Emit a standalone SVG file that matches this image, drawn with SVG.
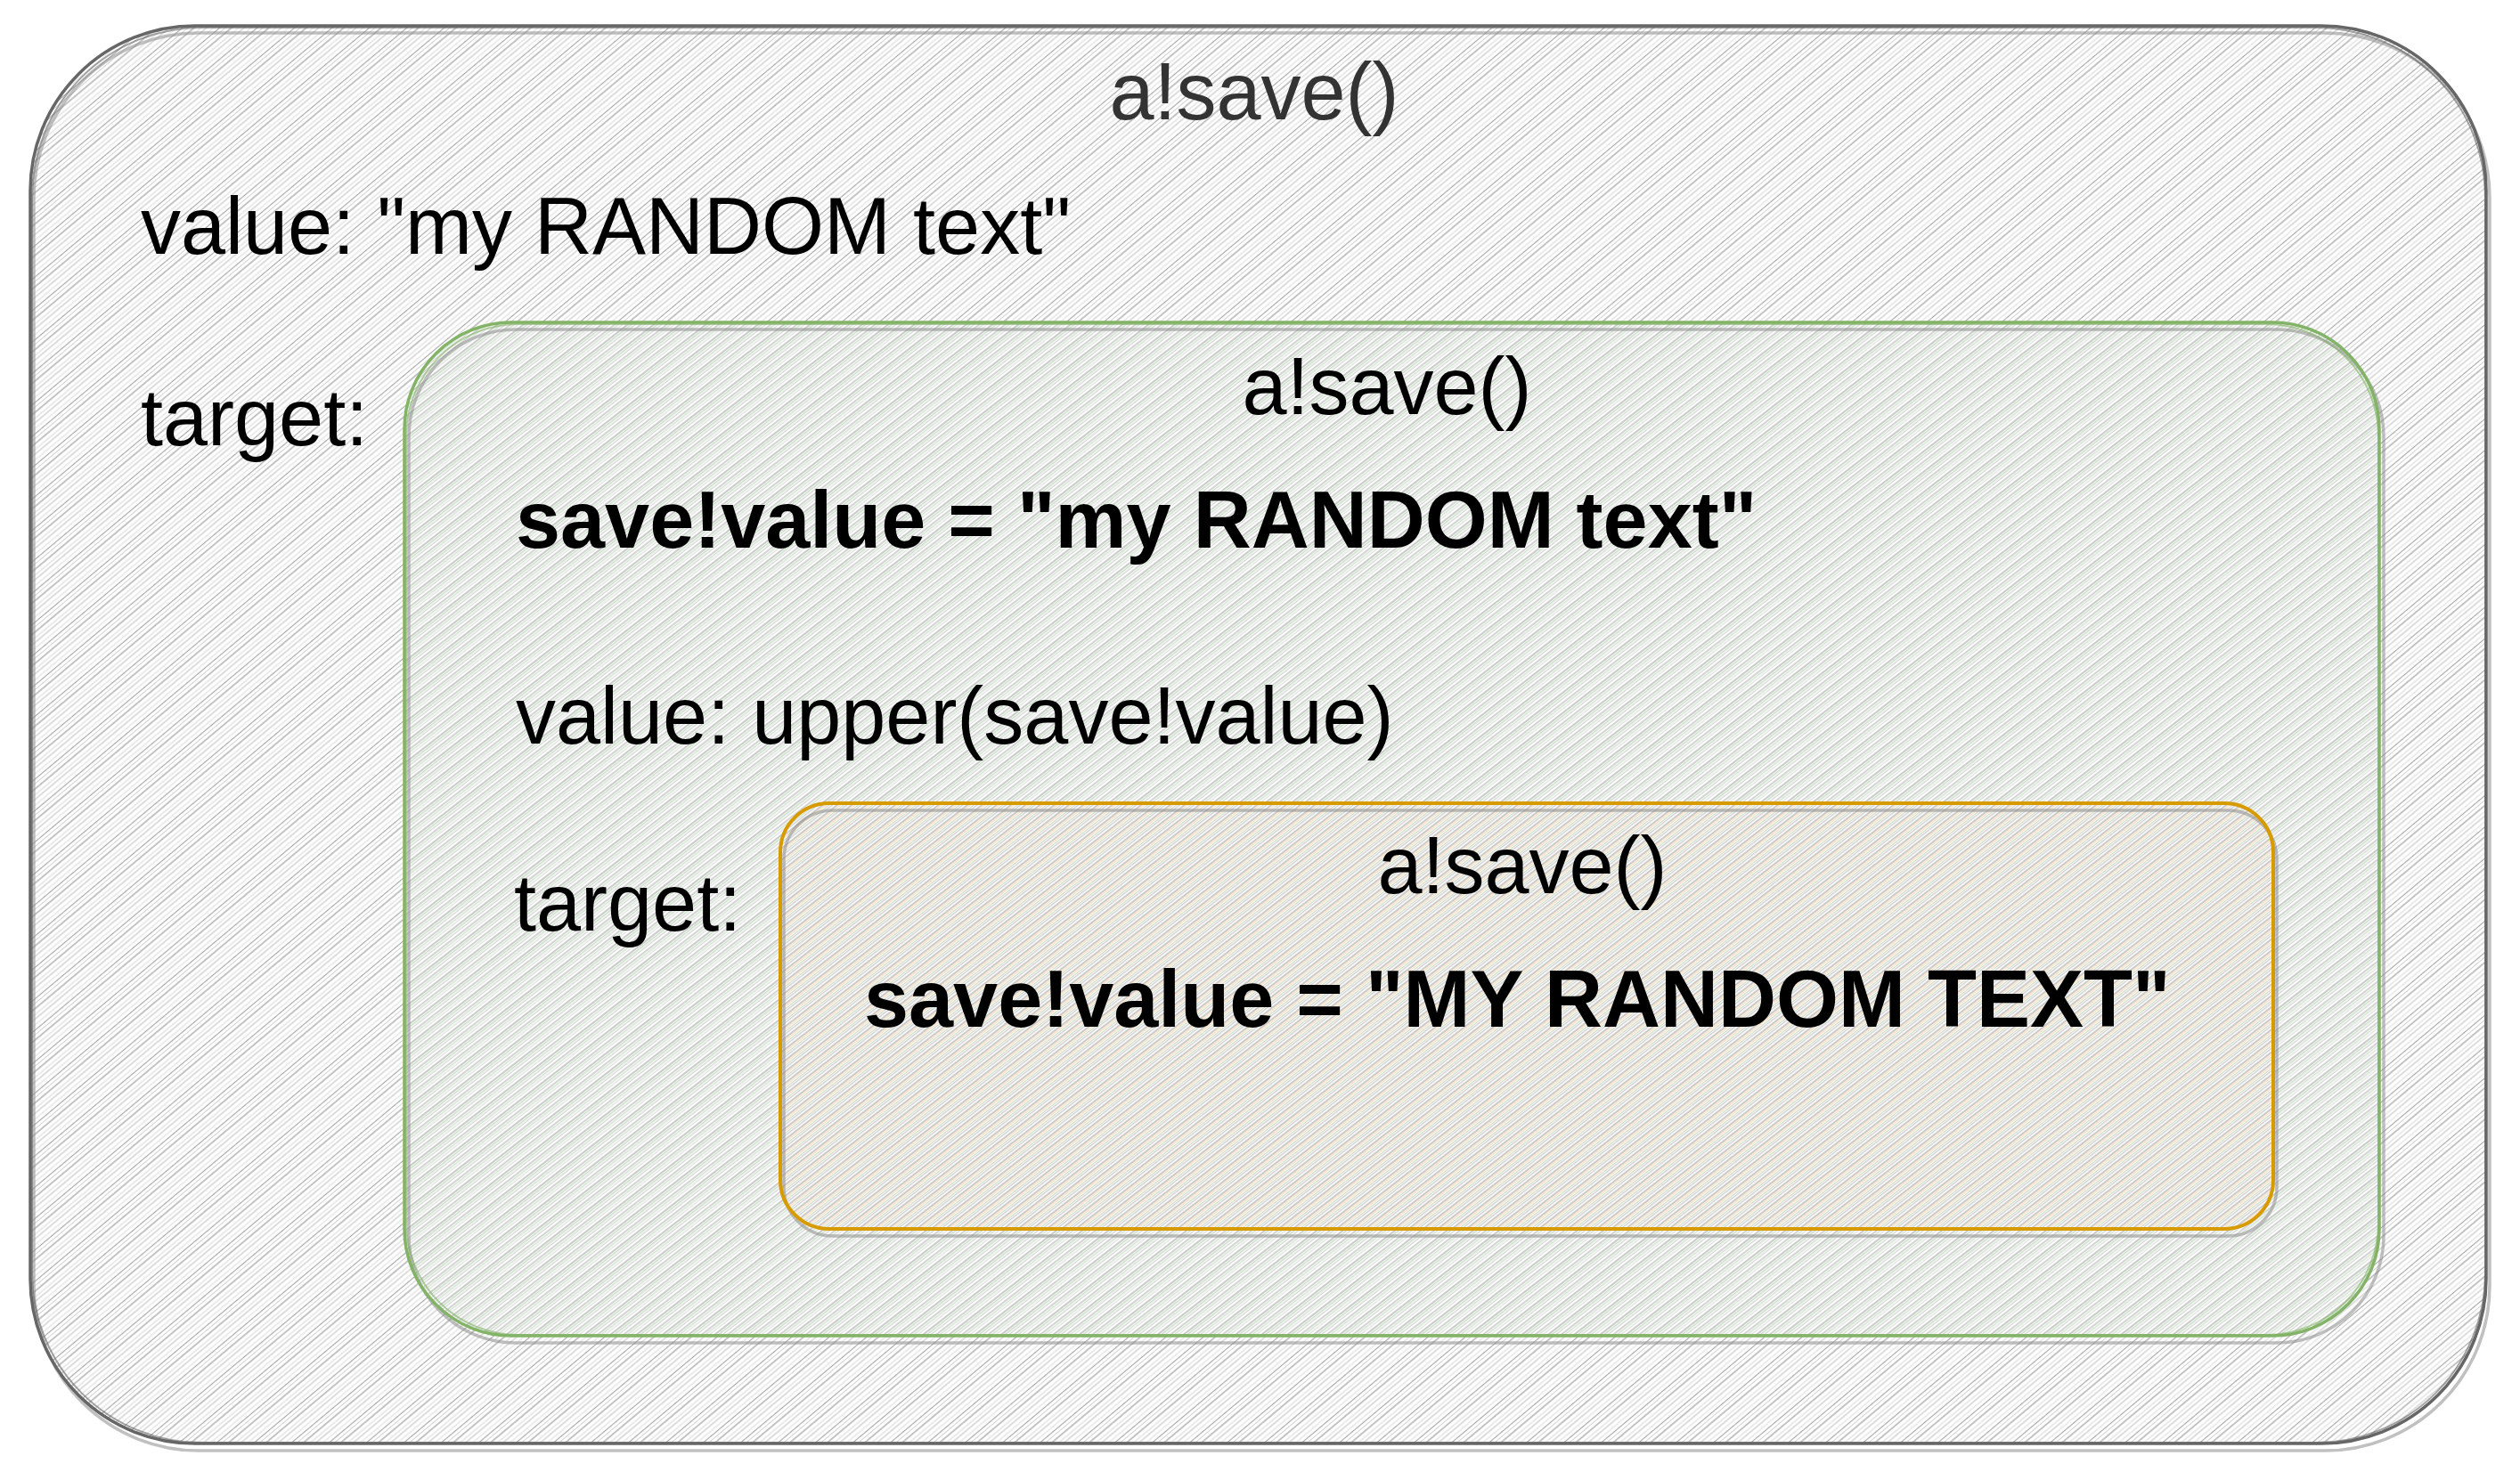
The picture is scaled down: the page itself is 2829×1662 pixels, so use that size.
<svg xmlns="http://www.w3.org/2000/svg" width="2829" height="1662" viewBox="0 0 2829 1662">
  <defs>
    <pattern id="hatchOuter" patternUnits="userSpaceOnUse" width="27" height="10" patternTransform="rotate(50)">
      <rect width="27" height="10" fill="#ffffff"/>
      <line x1="2" y1="0" x2="2" y2="10" stroke="#b0b0b0" stroke-width="1.5"/>
      <line x1="7" y1="0" x2="7" y2="10" stroke="#dcdcdc" stroke-width="1.2"/>
      <line x1="11" y1="0" x2="11" y2="10" stroke="#c2c2c2" stroke-width="1.1"/>
      <line x1="16" y1="0" x2="16" y2="10" stroke="#e4e4e4" stroke-width="1.4"/>
      <line x1="20.5" y1="0" x2="20.5" y2="10" stroke="#aaaaaa" stroke-width="1.2"/>
      <line x1="24.5" y1="0" x2="24.5" y2="10" stroke="#d2d2d2" stroke-width="1"/>
    </pattern>
    <pattern id="hatchGreen" patternUnits="userSpaceOnUse" width="18" height="9" patternTransform="rotate(52)">
      <rect width="18" height="9" fill="#ffffff"/>
      <line x1="1" y1="0" x2="1" y2="9" stroke="#a9a9a9" stroke-width="1.2"/>
      <line x1="3.6" y1="0" x2="3.6" y2="9" stroke="#c4dcc2" stroke-width="1.5"/>
      <line x1="6.3" y1="0" x2="6.3" y2="9" stroke="#c8c8c8" stroke-width="1"/>
      <line x1="10" y1="0" x2="10" y2="9" stroke="#b8b8b8" stroke-width="1.2"/>
      <line x1="12.6" y1="0" x2="12.6" y2="9" stroke="#cfe2cd" stroke-width="1.5"/>
      <line x1="15.3" y1="0" x2="15.3" y2="9" stroke="#d8d8d8" stroke-width="1"/>
    </pattern>
    <pattern id="hatchOrange" patternUnits="userSpaceOnUse" width="10" height="10" patternTransform="rotate(52)">
      <rect width="10" height="10" fill="#ffffff"/>
      <line x1="1" y1="0" x2="1" y2="10" stroke="#a9a9a9" stroke-width="1.2"/>
      <line x1="3.2" y1="0" x2="3.2" y2="10" stroke="#f8dfc2" stroke-width="1.5"/>
      <line x1="5.5" y1="0" x2="5.5" y2="10" stroke="#c9dac7" stroke-width="1.2"/>
      <line x1="7.8" y1="0" x2="7.8" y2="10" stroke="#bdbdbd" stroke-width="1"/>
    </pattern>
  </defs>
  <style>
    .txt { font-family: "Liberation Sans", Arial, Helvetica, sans-serif; font-size: 90px; fill: #000000; }
    .bold { font-weight: bold; }
    .dark { fill: #333333; }
    .mid { text-anchor: middle; }
    .shadow { fill: none; stroke: #8c8c8c; stroke-opacity: 0.55; stroke-width: 3.5; }
    .outerStroke { fill: none; stroke: #666666; stroke-width: 3.5; }
    .greenStroke { fill: none; stroke: #82b366; stroke-width: 3.5; }
    .orangeStroke { fill: none; stroke: #d79b00; stroke-width: 4; }
    .sketch { fill: none; stroke-width: 2; stroke-opacity: 0.6; }
  </style>
  <rect width="2829" height="1662" fill="#ffffff"/>

  <g id="outer-save">
    <rect x="34" y="29" width="2757" height="1592" rx="185" ry="185" fill="url(#hatchOuter)"/>
    <rect x="38" y="37" width="2757" height="1592" rx="185" ry="185" class="shadow"/>
    <rect x="34" y="29" width="2757" height="1592" rx="185" ry="185" class="outerStroke"/>
    <rect x="36" y="31" width="2754" height="1589" rx="190" ry="190" class="sketch" stroke="#666666"/>
    <text class="txt dark mid" x="1408" y="134">a!save()</text>
    <text class="txt" x="158" y="285">value: "my RANDOM text"</text>
    <text class="txt" x="158" y="500">target:</text>
  </g>

  <g id="middle-save">
    <rect x="454" y="362" width="2217" height="1138" rx="120" ry="120" fill="url(#hatchGreen)"/>
    <rect x="459" y="370" width="2217" height="1138" rx="120" ry="120" class="shadow"/>
    <rect x="454" y="362" width="2217" height="1138" rx="120" ry="120" class="greenStroke"/>
    <rect x="456" y="364" width="2214" height="1135" rx="126" ry="126" class="sketch" stroke="#82b366"/>
    <text class="txt mid" x="1557" y="465">a!save()</text>
    <text class="txt bold" x="579" y="615">save!value = "my RANDOM text"</text>
    <text class="txt" x="579" y="835">value: upper(save!value)</text>
    <text class="txt" x="577" y="1045">target:</text>
  </g>

  <g id="inner-save">
    <rect x="876" y="902" width="1676" height="478" rx="55" ry="55" fill="url(#hatchOrange)"/>
    <rect x="880" y="910" width="1676" height="478" rx="55" ry="55" class="shadow"/>
    <rect x="876" y="902" width="1676" height="478" rx="55" ry="55" class="orangeStroke"/>
    <text class="txt mid" x="1709" y="1003">a!save()</text>
    <text class="txt bold" x="970" y="1153">save!value = "MY RANDOM TEXT"</text>
  </g>

  <g id="connectors"/>
</svg>
